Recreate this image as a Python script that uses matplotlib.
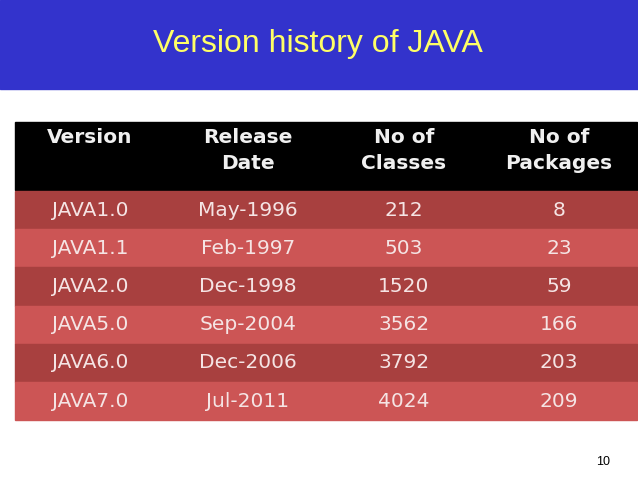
import matplotlib
matplotlib.use("Agg")
import matplotlib.pyplot as plt
from matplotlib.patches import Rectangle

title = "Version history of JAVA"
headers = ["Version", "Release\nDate", "No of\nClasses", "No of\nPackages"]
versions = ["JAVA1.0", "JAVA1.1", "JAVA2.0", "JAVA5.0", "JAVA6.0", "JAVA7.0"]
dates = ["May-1996", "Feb-1997", "Dec-1998", "Sep-2004", "Dec-2006", "Jul-2011"]
classes = [212, 503, 1520, 3562, 3792, 4024]
packages = [8, 23, 59, 166, 203, 209]
page = "10"

W, H = 638, 478
fig = plt.figure(figsize=(W/100, H/100), dpi=100)
ax = fig.add_axes([0, 0, 1, 1])
ax.set_xlim(0, W); ax.set_ylim(H, 0); ax.axis("off")

ax.add_patch(Rectangle((0, 0), W, 89, color="#3333cc"))
ax.text(318, 44, title, color="#ffff66", fontsize=23, ha="center", va="center",
        family="Liberation Sans")

x0, x1 = 15, 637
ax.add_patch(Rectangle((x0, 122), x1-x0, 68, color="black"))
cols = [90, 248, 404, 559]
for c, h in zip(cols, headers):
    ax.text(c, 128, h, color="#f0f0f0", fontsize=14.5, fontweight="bold",
            ha="center", va="top", linespacing=1.45, family="DejaVu Sans")
rowh = 38.2
y = 191
for i, row in enumerate(zip(versions, dates, classes, packages)):
    col = "#a8403f" if i % 2 == 0 else "#cc5555"
    ax.add_patch(Rectangle((x0, y), x1-x0, rowh, color=col))
    for c, v in zip(cols, row):
        ax.text(c, y + rowh/2, str(v), color="#f5e4e4", fontsize=14.5,
                ha="center", va="center", family="DejaVu Sans")
    y += rowh
ax.text(603, 462, page, fontsize=9, ha="center", va="center", family="Liberation Sans")
fig.savefig("out.png", dpi=100)
